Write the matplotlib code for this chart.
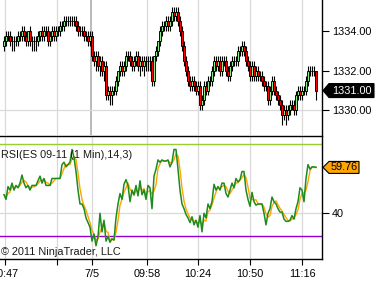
import matplotlib
matplotlib.use('Agg')
import matplotlib.pyplot as plt
import matplotlib.transforms as mtransforms
from matplotlib.patches import Polygon
import numpy as np
import pandas as pd

plt.rcParams['font.family'] = ['Liberation Sans', 'DejaVu Sans']

# ---------------- data ----------------
first_open = 1333.25
closes = [
    1333.50, 1333.75, 1333.75, 1333.50, 1333.50, 1333.50, 1333.50, 1333.75, 1333.75, 1334.00,
    1333.75, 1333.50, 1334.00, 1333.50, 1333.50, 1333.50, 1333.50, 1333.75, 1334.00, 1333.75,
    1334.00, 1334.00, 1333.50, 1333.75, 1334.00, 1333.75, 1334.00, 1334.00, 1334.25, 1334.25,
    1334.50, 1334.50, 1334.50, 1334.50, 1334.50, 1334.50, 1334.25, 1334.00, 1334.00, 1334.00,
    1333.75, 1333.75, 1333.50, 1333.75, 1332.75, 1332.50, 1332.75, 1332.25, 1332.50, 1332.00,
    1332.25, 1330.75, 1331.00, 1330.75, 1331.00, 1331.00, 1331.50, 1332.00, 1332.25, 1332.00,
    1332.25, 1332.75, 1332.75, 1332.50, 1332.25, 1332.50, 1332.75, 1332.25, 1332.50, 1332.25,
    1332.50, 1332.50, 1332.50, 1332.50, 1331.50, 1332.75, 1333.00, 1333.50, 1334.00, 1334.25,
    1334.25, 1334.50, 1334.25, 1334.50, 1335.00, 1334.75, 1335.00, 1334.50, 1334.00, 1333.25,
    1332.50, 1332.00, 1331.50, 1331.25, 1331.50, 1331.25, 1331.00, 1331.25, 1330.25, 1330.50,
    1331.25, 1331.00, 1331.50, 1331.50, 1332.00, 1332.50, 1332.25, 1332.50, 1332.00, 1332.50,
    1332.50, 1332.00, 1331.75, 1332.25, 1332.50, 1332.50, 1332.50, 1333.00, 1333.00, 1333.25,
    1333.00, 1332.50, 1332.25, 1331.75, 1332.25, 1331.75, 1332.00, 1331.75, 1331.75, 1331.50,
    1331.25, 1331.25, 1330.50, 1331.00, 1331.50, 1331.00, 1330.75, 1330.50, 1330.25, 1329.75,
    1330.00, 1329.75, 1330.00, 1330.25, 1330.25, 1330.00, 1330.75, 1331.00, 1330.75, 1331.00,
    1331.00, 1331.50, 1332.00, 1332.00, 1332.00, 1332.00, 1331.00,
]
# wick lengths in ticks (0.25) above / below candle body
wick_up = [
    1, 1, 1, 1, 1, 1, 1, 1, 1, 1,
    1, 1, 0, 1, 1, 1, 1, 1, 0, 1,
    1, 1, 1, 1, 1, 1, 1, 1, 1, 1,
    1, 1, 1, 1, 1, 1, 1, 1, 1, 1,
    1, 1, 1, 1, 1, 1, 1, 1, 1, 1,
    1, 1, 1, 1, 1, 1, 1, 0, 1, 1,
    1, 1, 1, 1, 1, 1, 1, 1, 1, 1,
    1, 1, 1, 1, 1, 0, 1, 0, 1, 1,
    1, 1, 1, 1, 1, 1, 1, 1, 1, 1,
    1, 1, 1, 1, 1, 1, 1, 1, 1, 1,
    1, 1, 1, 1, 1, 1, 1, 1, 1, 1,
    1, 1, 1, 1, 1, 1, 1, 1, 1, 1,
    1, 1, 1, 1, 1, 1, 1, 1, 1, 1,
    1, 1, 1, 1, 1, 1, 1, 1, 1, 1,
    1, 1, 1, 1, 1, 1, 1, 1, 1, 1,
    1, 1, 1, 1, 1, 1, 0,
]
wick_dn = [
    1, 1, 1, 1, 2, 2, 1, 1, 1, 1,
    1, 1, 1, 1, 2, 2, 2, 1, 1, 1,
    1, 1, 1, 1, 1, 1, 1, 1, 1, 1,
    1, 1, 1, 1, 1, 1, 1, 1, 1, 1,
    1, 1, 1, 1, 1, 1, 2, 1, 2, 1,
    2, 1, 1, 2, 2, 1, 1, 1, 1, 1,
    1, 1, 1, 1, 1, 1, 1, 1, 2, 1,
    2, 2, 2, 2, 1, 1, 1, 1, 1, 1,
    1, 1, 1, 1, 1, 1, 1, 1, 1, 1,
    1, 1, 1, 1, 1, 1, 1, 1, 1, 1,
    1, 1, 1, 1, 1, 1, 1, 1, 1, 1,
    1, 1, 1, 1, 1, 1, 1, 1, 1, 1,
    1, 1, 1, 1, 1, 1, 1, 1, 1, 1,
    1, 1, 1, 1, 1, 1, 1, 1, 1, 2,
    1, 2, 1, 1, 1, 1, 1, 1, 1, 1,
    1, 1, 1, 1, 1, 1, 2,
]
rsi = [
    48, 46, 51.5, 50, 53, 50, 52, 51, 53, 56.5,
    53, 51, 52, 50, 52, 52, 52, 54, 56, 53,
    55, 52, 52, 52, 55, 55, 55, 55, 55, 61,
    62, 60, 61, 62, 67.5, 64, 58, 50, 44, 44,
    42, 38, 36, 34, 28, 31, 26, 30, 40, 32,
    37, 28, 30, 27.5, 29, 28.5, 38, 44, 48.5, 46,
    52.5, 54.5, 52, 45, 50, 48, 52, 47.5, 54, 48,
    50, 46, 52, 51, 42, 56, 59, 63, 62, 63,
    62.5, 62.5, 63, 60, 62, 67.5, 67.5, 59, 50, 44,
    42, 39.5, 38, 36, 38.5, 35, 37, 34, 39, 32,
    40, 38, 44, 42, 45, 52.5, 50, 51.5, 50, 53,
    53, 48.5, 47, 50, 53, 51, 55, 53.5, 54.5, 58,
    58, 50, 46, 43, 49, 45, 43.5, 44, 44, 44,
    40, 35, 40, 42, 47, 45, 44, 42, 40.5, 40.5,
    37.5, 36.5, 36.5, 37, 39, 37.5, 42, 45, 51, 50,
    45, 55, 61, 59, 60, 60, 59.76,
]
rsi_smooth_period = 3
upper_level = 70
lower_level = 30

x_tick_pos = [0.5, 26.5, 44, 71.5, 97, 123, 149]
x_tick_labels = ['10:47', '', '7/5', '09:58', '10:24', '10:50', '11:16']
session_break = 43.5
price_ticks = [1330, 1332, 1334]
rsi_ticks = [40]

# ---------------- derived ----------------
tick = 0.25
n = len(closes)
idx = np.arange(n)
c = np.array(closes)
o = np.array([first_open] + closes[:-1])
body_top = np.maximum(o, c)
body_bot = np.minimum(o, c)
highs = body_top + np.array(wick_up) * tick
lows = body_bot - np.array(wick_dn) * tick
colors = ['#8EEA8E' if cc > oo else ('#FF0000' if cc < oo else 'black') for oo, cc in zip(o, c)]
rsi_avg = pd.Series(rsi).rolling(rsi_smooth_period, min_periods=1).mean().values

# ---------------- figure ----------------
W, H = 379, 284
fig = plt.figure(figsize=(W / 100, H / 100), dpi=100)
fig.patch.set_facecolor('white')
right_px = 322
ax1 = fig.add_axes([0, 1 - 135 / H, right_px / W, 135 / H])
ax2 = fig.add_axes([0, 1 - 259 / H, right_px / W, 123 / H])

grid_c = '#d9d9d9'
fs = 7.8

# price pane
ax1.set_xlim(-2, 159)
ax1.set_ylim(1328.75, 1335.585)
for p in x_tick_pos:
    if p == 44:
        continue
    ax1.axvline(p, color=grid_c, lw=0.9, zorder=0)
ax1.axvline(session_break, color='#b4b4b4', lw=1.3, zorder=0)
ax1.axhline(1330, color=grid_c, lw=0.9, zorder=0)
ax1.vlines(idx, lows, highs, color='black', lw=0.8, zorder=2)
ax1.bar(idx, body_top - body_bot, bottom=body_bot, width=0.95, color=colors,
        edgecolor='black', linewidth=0.65, zorder=3)
for s in ['left', 'top', 'bottom']:
    ax1.spines[s].set_visible(False)
ax1.spines['right'].set_color('black')
ax1.spines['right'].set_linewidth(1.0)
ax1.set_xticks([])
ax1.yaxis.tick_right()
ax1.set_yticks(price_ticks)
ax1.set_yticklabels([f'{v:.2f}' for v in price_ticks])
ax1.tick_params(axis='y', length=5, width=0.8, pad=2, labelsize=fs, colors='black')

# RSI pane
ax2.set_xlim(-2, 159)
ax2.set_ylim(20.3, 73.3)
for p in x_tick_pos:
    ax2.axvline(p, color=grid_c, lw=0.9, zorder=0)
ax2.axhline(40, color=grid_c, lw=0.9, zorder=0)
ax2.axhline(upper_level, color='#9ACD32', lw=1.0, zorder=1)
ax2.axhline(lower_level, color='#9400D3', lw=1.0, zorder=1)
ax2.plot(idx, rsi_avg, color='#FFA500', lw=1.0, zorder=2)
ax2.plot(idx, rsi, color='#1E8B1E', lw=1.1, zorder=3)
ax2.spines['left'].set_visible(False)
for s in ['top', 'bottom', 'right']:
    ax2.spines[s].set_color('black')
    ax2.spines[s].set_linewidth(1.0)
ax2.yaxis.tick_right()
ax2.set_yticks(rsi_ticks)
ax2.set_yticklabels([str(v) for v in rsi_ticks])
ax2.tick_params(axis='y', length=5, width=0.8, pad=2, labelsize=fs, colors='black')
ax2.set_xticks(x_tick_pos)
ax2.set_xticklabels(x_tick_labels)
ax2.tick_params(axis='x', length=4, width=0.8, pad=3, labelsize=fs, colors='black')

ax2.text(0.003, (259 - 155) / 123, 'RSI(ES 09-11 (1 Min),14,3)', transform=ax2.transAxes,
         ha='left', va='center', fontsize=fs, color='#1a1a1a', zorder=5)
ax2.text(0.003, (259 - 252) / 123, '\u00a9 2011 NinjaTrader, LLC', transform=ax2.transAxes,
         ha='left', va='center', fontsize=fs, color='#1a1a1a', zorder=5)

# value markers on right axis
ident = mtransforms.IdentityTransform()


def marker(ax, yval, text, fc, tc, width, half_h):
    xs, ys = ax.transData.transform((0, yval))
    xs = ax.transAxes.transform((1, 0))[0] + 1
    pts = [(xs, ys), (xs + 6, ys + half_h), (xs + width, ys + half_h),
           (xs + width, ys - half_h), (xs + 6, ys - half_h)]
    fig.add_artist(Polygon(pts, closed=True, facecolor=fc, edgecolor='black',
                           linewidth=0.8, transform=ident, zorder=10))
    fig.text(xs + 6 + (width - 6) / 2, ys, text, transform=ident, ha='center', va='center',
             fontsize=fs, color=tc, zorder=11)


marker(ax1, closes[-1], f'{closes[-1]:.2f}', 'black', 'white', 51, 7)
marker(ax2, rsi[-1], f'{rsi[-1]:.2f}', '#FFA500', 'black', 36, 6)

fig.savefig('out.png', dpi=100, facecolor='white')
